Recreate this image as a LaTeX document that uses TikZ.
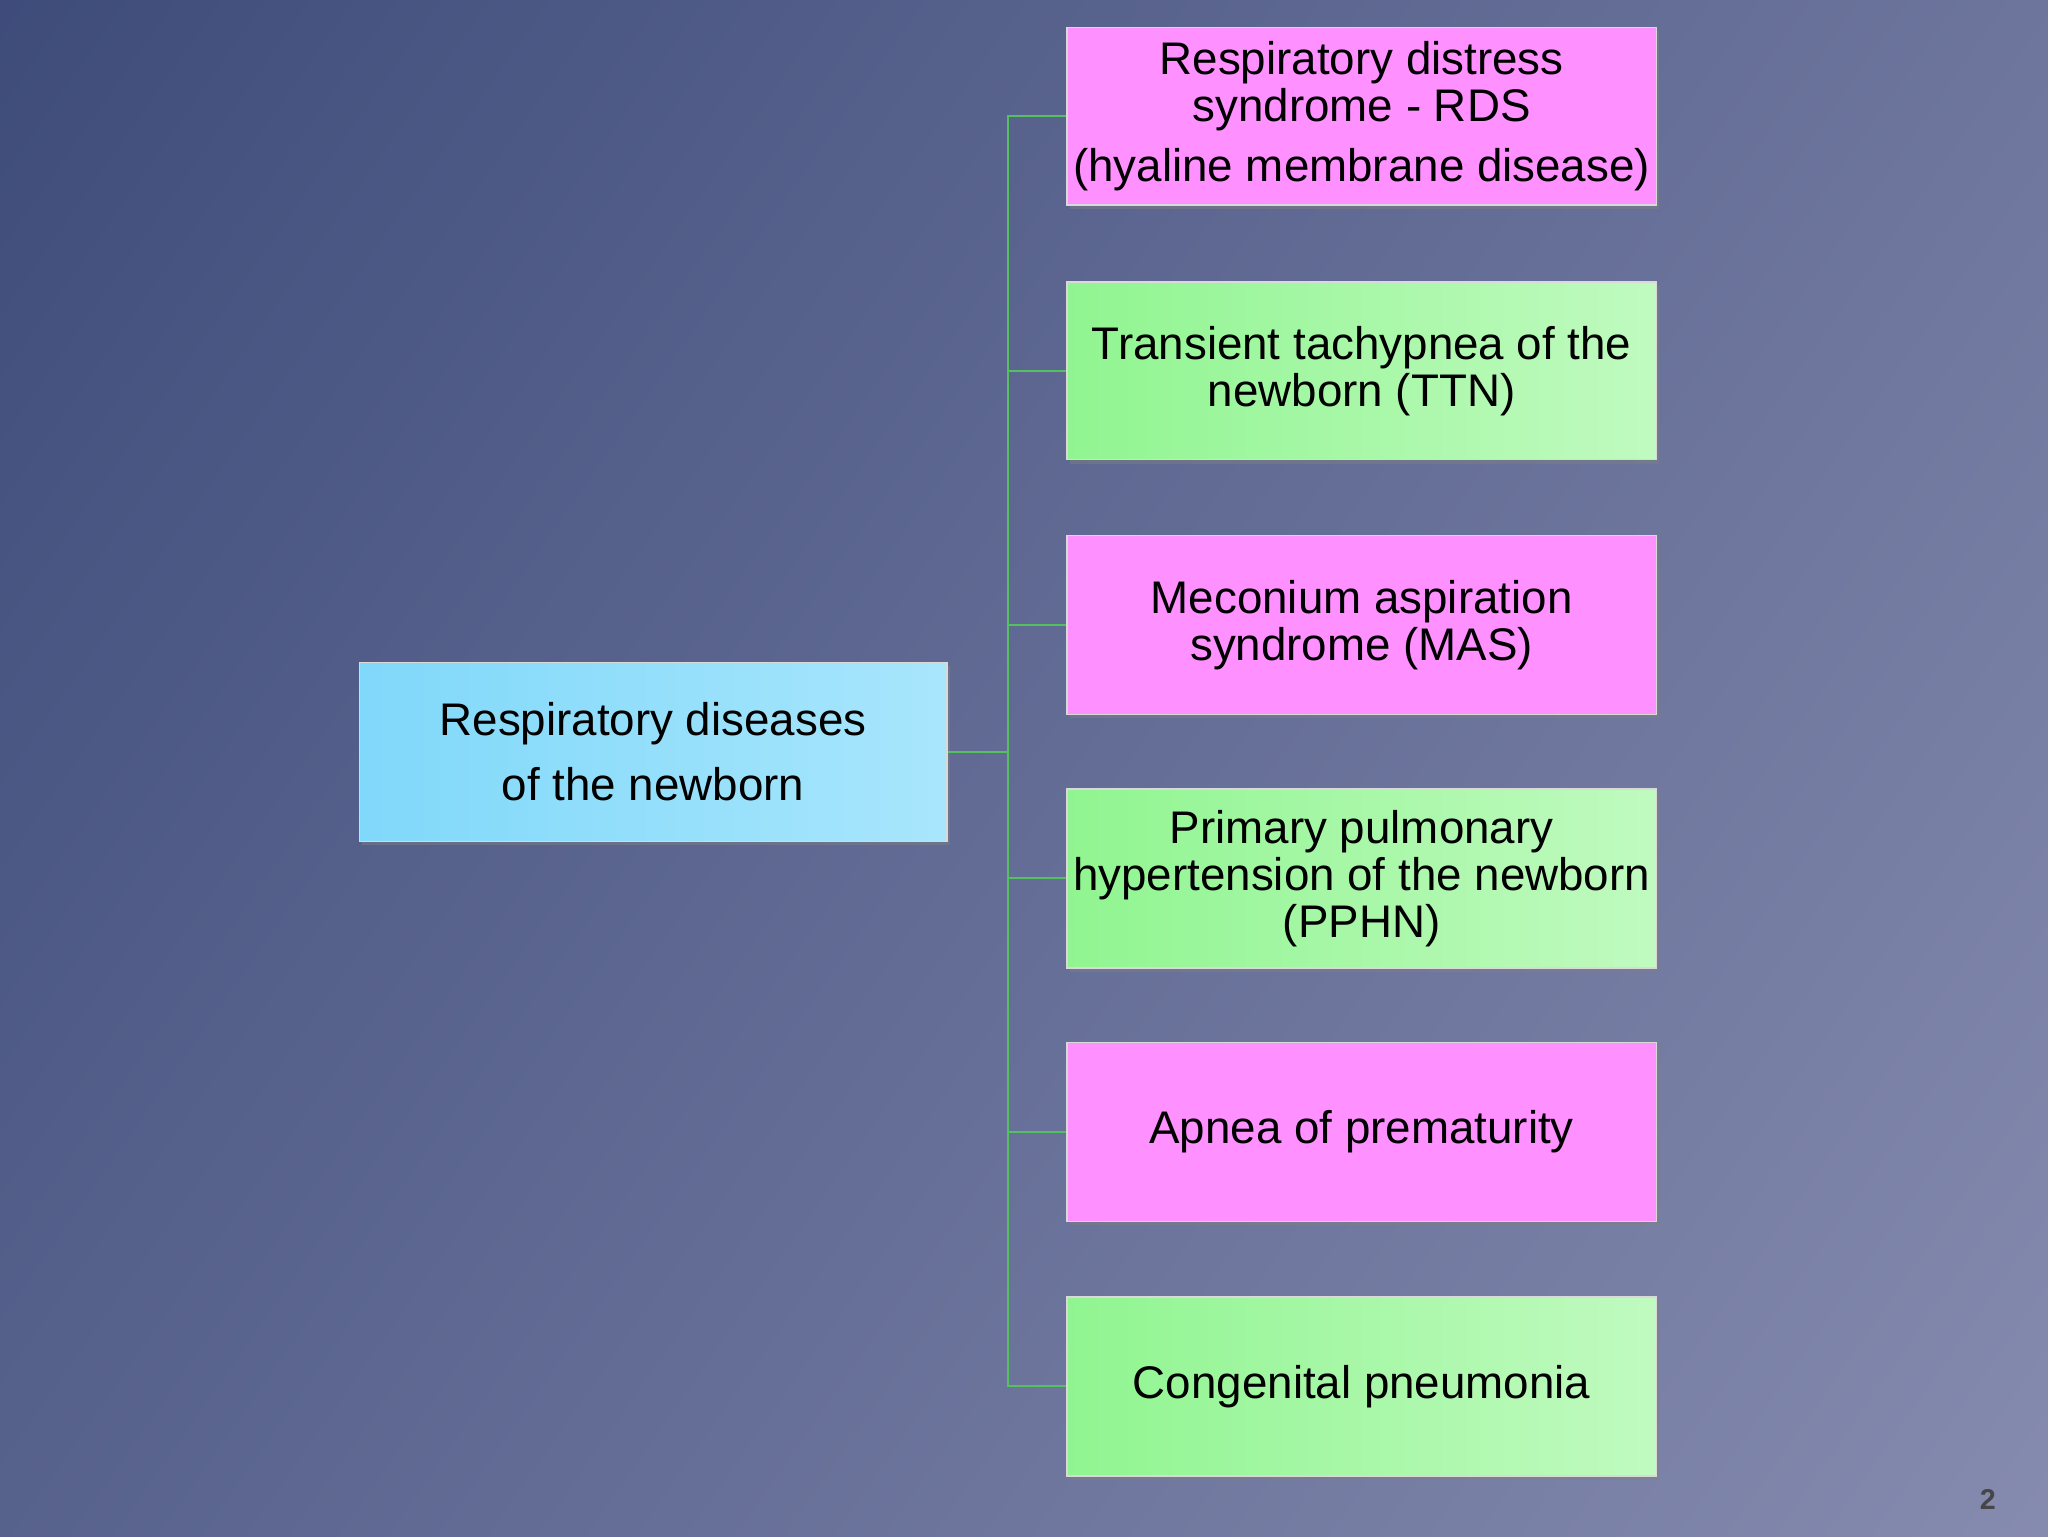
\documentclass[tikz,border=0pt]{standalone}
\usepackage{fontspec}
\setmainfont{Liberation Sans}
\usetikzlibrary{shadows}
\definecolor{bgA}{HTML}{3A4877}
\definecolor{bgB}{HTML}{8A8FB2}
\definecolor{pinkA}{HTML}{FF90FF}
\definecolor{greenA}{HTML}{90F590}
\definecolor{greenB}{HTML}{C0FAC0}
\definecolor{blueA}{HTML}{80D8FA}
\definecolor{blueB}{HTML}{A8E6FC}
\definecolor{linkc}{HTML}{55C060}
\begin{document}
\begin{tikzpicture}[x=1pt,y=-1pt,
  box/.style={draw=white!70!gray,line width=1pt,minimum width=451pt,align=center,
    font=\fontsize{35}{36}\selectfont,text=black,inner sep=2pt,
    drop shadow={shadow xshift=2pt,shadow yshift=-3pt,opacity=0.45}},
  pink/.style={box,fill=pinkA},
  green/.style={box,left color=greenA,right color=greenB},
  link/.style={draw=linkc,line width=1.5pt}]
\useasboundingbox (0,0) rectangle (1568,1176);
\shade[top color=bgA,bottom color=bgB,shading angle=55] (-400,-400) rectangle (1968,1576);
\node[box,left color=blueA,right color=blueB,minimum width=450pt,minimum height=137pt,font=\fontsize{35}{50}\selectfont] (root) at (500,575.5) {Respiratory diseases\\of the newborn};
\node[pink,minimum height=136pt] (b1) at (1042.5,89) {Respiratory distress\\syndrome - RDS\\[10pt](hyaline membrane disease)};
\node[green,minimum height=136pt] (b2) at (1042.5,284) {Transient tachypnea of the\\newborn (TTN)};
\node[pink,minimum height=137pt] (b3) at (1042.5,478.5) {Meconium aspiration\\syndrome (MAS)};
\node[green,minimum height=137pt] (b4) at (1042.5,672.5) {Primary pulmonary\\hypertension of the newborn\\(PPHN)};
\node[pink,minimum height=137pt] (b5) at (1042.5,866.5) {Apnea of prematurity};
\node[green,minimum height=137pt] (b6) at (1042.5,1061.5) {Congenital pneumonia};
\coordinate (j) at (772,575.5);
\draw[link] (root.east) -- (j);
\draw[link] (b1.west) -| (j) |- (b6.west);
\foreach \b in {b2,b3,b4,b5} \draw[link] (\b.west) -- (j |- \b.west);
\node[text=black!45!gray,font=\fontsize{22}{24}\selectfont\bfseries] (pg) at (1522,1148) {2};
\end{tikzpicture}
\end{document}
